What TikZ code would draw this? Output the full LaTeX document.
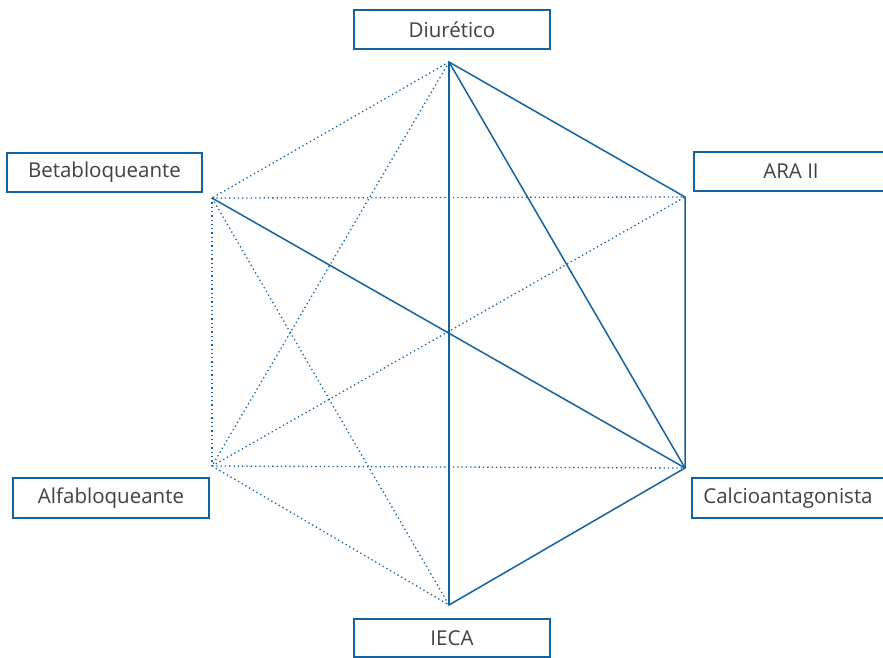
\documentclass[tikz,border=0pt]{standalone}
\usepackage{fontspec}
\setmainfont{Open Sans}
\definecolor{lblue}{RGB}{20,98,160}
\definecolor{ltext}{RGB}{65,65,65}
\begin{document}
\begin{tikzpicture}[x=1pt,y=-1pt,
  labfont/.style={text=ltext,font=\fontsize{20.5}{22}\selectfont},
  lab/.style={draw=lblue,line width=1.6pt,inner sep=0pt,labfont},
  solidln/.style={draw=lblue,line width=1.5pt},
  dotln/.style={draw=lblue,line width=1.3pt,dash pattern=on 1.3pt off 3pt}]
\useasboundingbox (0,0) rectangle (883,658);
\begin{scope}
\clip (0,0) rectangle (883,658);
\node[lab,minimum width=196pt,minimum height=39pt] (ld) at (452,29.5) {Diurético};
\node[lab,minimum width=195pt,minimum height=39pt] (lb) at (104.5,172.5) {Betabloqueante};
\node[lab,minimum width=204pt,minimum height=39pt] (la) at (796,171.5) {};
\node[labfont] (lat) at (791,171.5) {ARA II};
\node[lab,minimum width=196pt,minimum height=40pt] (lal) at (111,498) {Alfabloqueante};
\node[lab,minimum width=204pt,minimum height=40pt] (lc) at (794,498) {};
\node[labfont] (lct) at (788,498) {Calcioantagonista};
\node[lab,minimum width=196pt,minimum height=38pt] (li) at (452,638) {IECA};
\end{scope}
\coordinate (D) at (449,62);
\coordinate (A) at (685,197);
\coordinate (C) at (685,468);
\coordinate (I) at (449,605);
\coordinate (L) at (212,466);
\coordinate (B) at (212,198);
\draw[dotln] (D) -- (B);
\draw[dotln] (D) -- (L);
\draw[dotln] (B) -- (A);
\draw[dotln] (B) -- (L);
\draw[dotln] (B) -- (I);
\draw[dotln] (L) -- (A);
\draw[dotln] (L) -- (C);
\draw[dotln] (L) -- (I);
\draw[solidln,line join=miter] (D) -- (A) -- (C) -- (I) -- cycle;
\draw[solidln] (D) -- (C);
\draw[solidln] (D) -- (I);
\draw[solidln] (B) -- (C);
\end{tikzpicture}
\end{document}
